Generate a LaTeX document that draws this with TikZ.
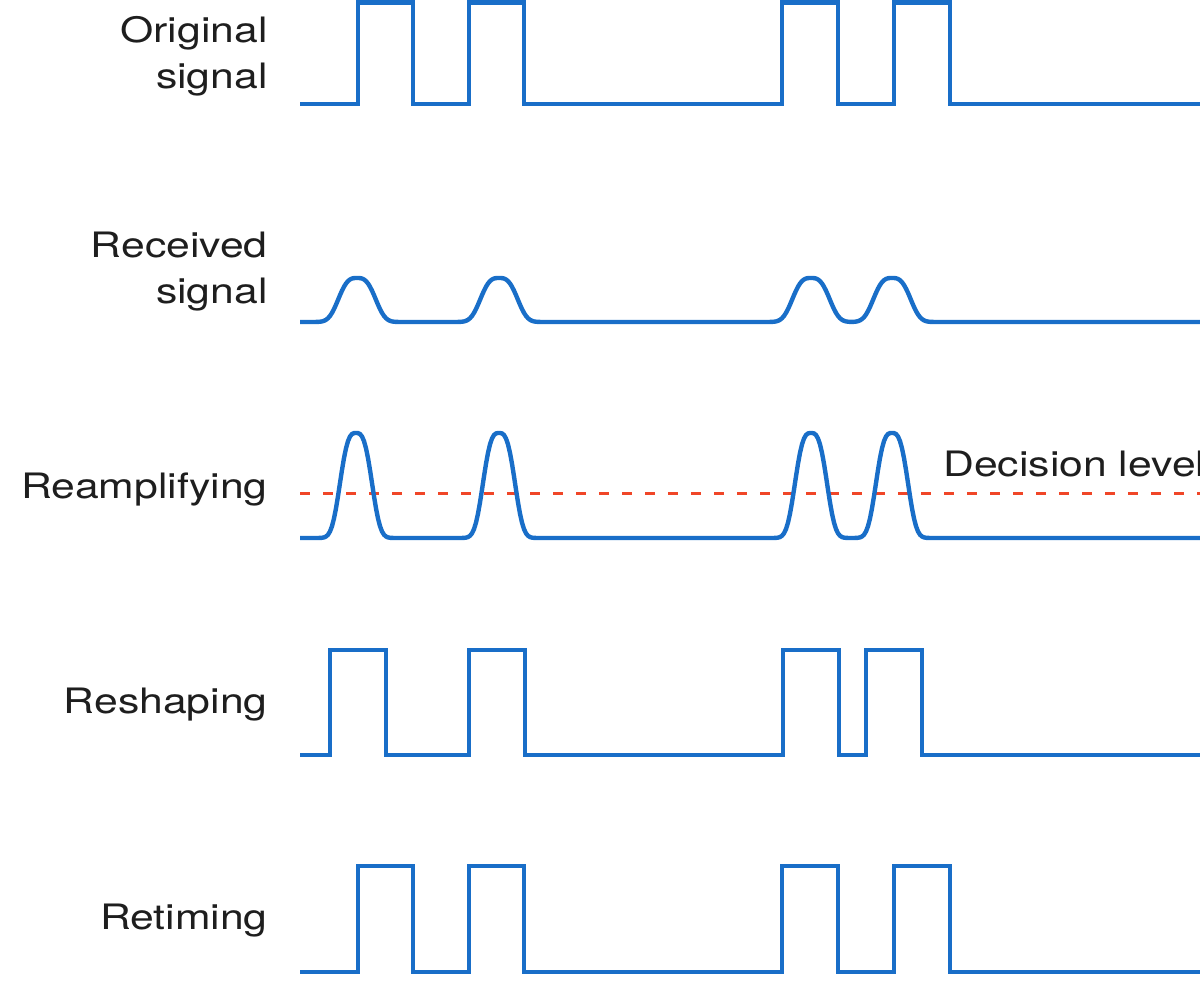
\documentclass[tikz,border=0pt]{standalone}
\usepackage{fontspec}
\newfontfamily\labfont{TeX Gyre Heros}[FakeStretch=1.22]
\definecolor{sigblue}{RGB}{25,110,200}
\definecolor{levred}{RGB}{240,70,40}
\definecolor{labgray}{RGB}{30,30,30}
\begin{document}
\begin{tikzpicture}[x=0.5pt,y=-0.5pt,
  signal/.style={draw=sigblue,line width=2.2pt,line join=miter},
  level/.style={draw=levred,line width=1.5pt,dash pattern=on 5pt off 6.5pt},
  lab/.style={anchor=base east,inner sep=0pt,text=labgray,font=\labfont\fontsize{17.5pt}{21pt}\selectfont},
  declare function={
    gb(\x,\c)=exp(-(min(abs(\x-\c)/18.5,3))^3);
    rb(\x,\c)=exp(-(min(abs(\x-\c)/21.5,3))^3);
  }]
\useasboundingbox (0,0) rectangle (1200,1004);

% labels
\node[lab] (l1a) at (268,43) {Original};
\node[lab] (l1b) at (268,89) {signal};
\node[lab] (l2a) at (268,258) {Received};
\node[lab] (l2b) at (268,304) {signal};
\node[lab] (l3) at (268,499) {Reamplifying};
\node[lab] (l4) at (268,714) {Reshaping};
\node[lab] (l5) at (268,930) {Retiming};
\node[lab,anchor=base west] (dl) at (943,477) {Decision level};

% original signal
\draw[signal] (300,104) -- (358,104) -- (358,2.5) -- (413,2.5) -- (413,104)
  -- (469,104) -- (469,2.5) -- (524,2.5) -- (524,104)
  -- (782,104) -- (782,2.5) -- (838,2.5) -- (838,104)
  -- (894,104) -- (894,2.5) -- (950,2.5) -- (950,104) -- (1200,104);

% received signal
\draw[signal] plot[domain=300:960,samples=331]
  (\x,{322-44*(rb(\x,357)+rb(\x,499)+rb(\x,811)+rb(\x,892))}) -- (1200,322);

% decision level
\draw[level] (300,494) -- (1200,494);

% reamplifying
\draw[signal] plot[domain=300:960,samples=331]
  (\x,{538-105*(gb(\x,356)+gb(\x,499)+gb(\x,811)+gb(\x,892))}) -- (1200,538);

% reshaping
\draw[signal] (300,755) -- (330,755) -- (330,650) -- (386,650) -- (386,755)
  -- (469,755) -- (469,650) -- (525,650) -- (525,755)
  -- (783,755) -- (783,650) -- (839,650) -- (839,755)
  -- (866,755) -- (866,650) -- (922,650) -- (922,755) -- (1200,755);

% retiming
\draw[signal] (300,972) -- (358,972) -- (358,866) -- (413,866) -- (413,972)
  -- (469,972) -- (469,866) -- (524,866) -- (524,972)
  -- (782,972) -- (782,866) -- (838,866) -- (838,972)
  -- (894,972) -- (894,866) -- (950,866) -- (950,972) -- (1200,972);
\end{tikzpicture}
\end{document}
